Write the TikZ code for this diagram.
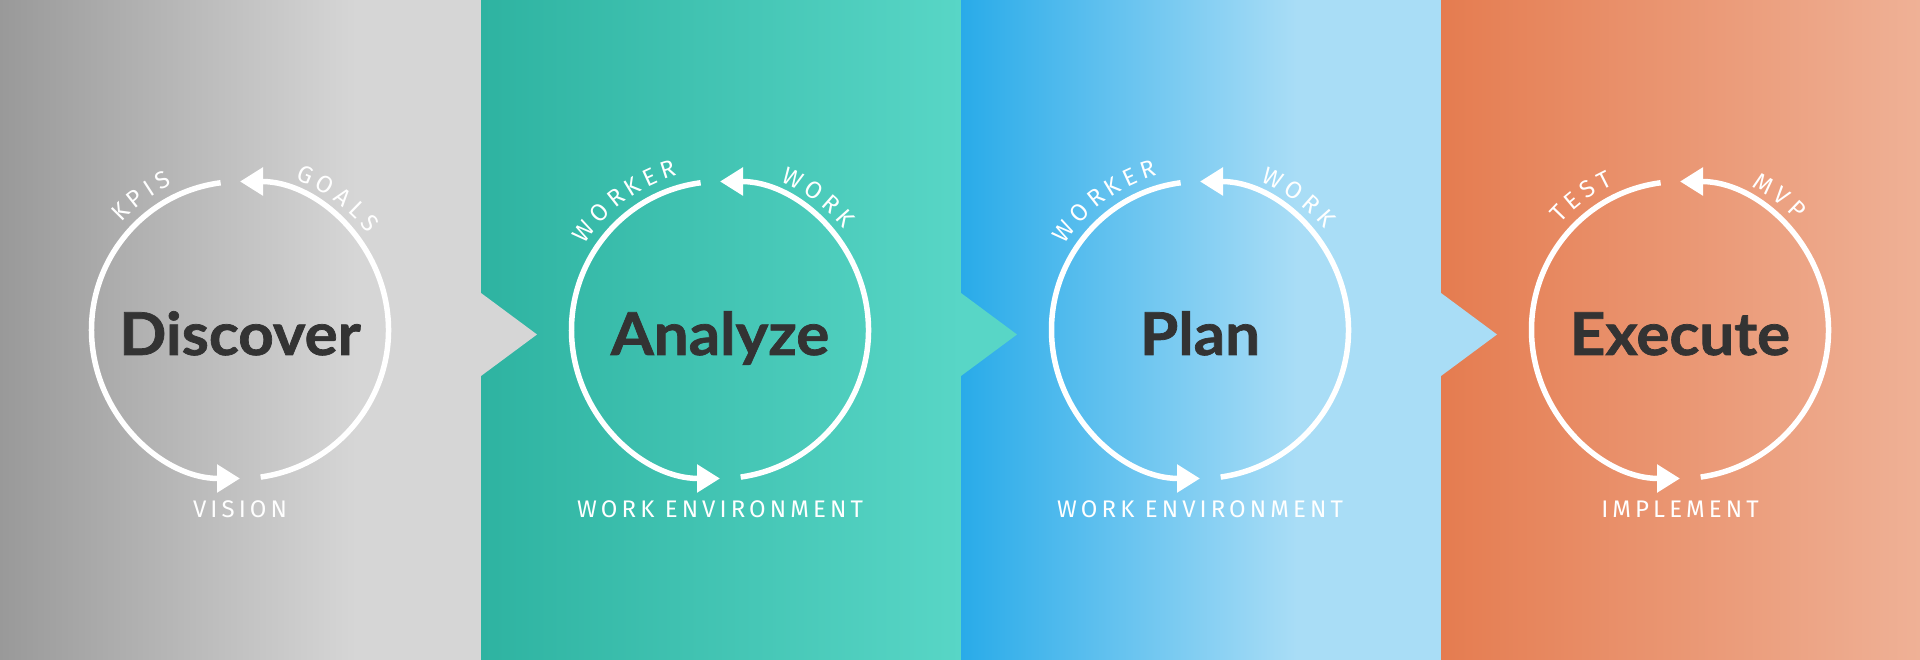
\documentclass[tikz,border=0pt]{standalone}
\usepackage{fontspec}
\newfontfamily\titlefont[FakeStretch=1.05, FakeBold=1.2]{Lato}
\newfontfamily\labelfont[LetterSpace=17]{Fira Sans}
\usetikzlibrary{calc,arrows.meta,decorations.text}
\definecolor{grayL}{HTML}{999999}
\definecolor{grayR}{HTML}{D6D6D6}
\definecolor{tealL}{HTML}{2EB3A1}
\definecolor{tealR}{HTML}{58D6C6}
\definecolor{blueL}{HTML}{29ABE9}
\definecolor{blueR}{HTML}{A9DDF6}
\definecolor{orangeL}{HTML}{E57C50}
\definecolor{orangeR}{HTML}{EFB196}
\definecolor{ink}{HTML}{333333}
\pgfdeclarehorizontalshading{grayfade}{100bp}{color(0bp)=(grayL); color(25bp)=(grayL); color(62bp)=(grayR); color(100bp)=(grayR)}
\pgfdeclarehorizontalshading{tealfade}{100bp}{color(0bp)=(tealL); color(25bp)=(tealL); color(75bp)=(tealR); color(100bp)=(tealR)}
\pgfdeclarehorizontalshading{bluefade}{100bp}{color(0bp)=(blueL); color(25bp)=(blueL); color(60bp)=(blueR); color(100bp)=(blueR)}
\pgfdeclarehorizontalshading{orangefade}{100bp}{color(0bp)=(orangeL); color(25bp)=(orangeL); color(75bp)=(orangeR); color(100bp)=(orangeR)}
\tikzset{
	cyclearrow/.style={white, line width=5.5, -{Triangle[length=23pt,width=27pt]}},
	phasetitle/.style={anchor=base, inner sep=0, text=ink, font=\titlefont\bfseries\fontsize{59}{59}\selectfont},
	phasecaption/.style={anchor=base, inner sep=0, text=white, font=\labelfont\fontsize{24}{24}\selectfont}
}
\def\cyclearcs(#1){\draw[cyclearrow] ($(#1)+(97.5:148.5)$) arc (97.5:270:148.5);
	\draw[cyclearrow] ($(#1)+(278:148.5)$) arc (278:450:148.5);}
\def\arclabel(#1)(#2:#3)#4{\path[decorate, decoration={text effects along path, text={#4}, text align=center,
	text effects/.cd, characters={text along path, text=white, inner sep=0, font=\labelfont\fontsize{24}{24}\selectfont},
	character widths={inner xsep=2.6pt, font=\labelfont\fontsize{24}{24}\selectfont}}] ($(#1)+(#2:160)$) arc (#2:#3:160);}

\begin{document}
\begin{tikzpicture}[x=1pt, y=1pt]
			%%%%% PANELS %%%%%
			\useasboundingbox (0, 0) rectangle (1920, 660);
			
			\shade[shading=grayfade] (0, 0) rectangle (481, 660);
			\shade[shading=tealfade] (481, 0) rectangle (961, 660);
			\shade[shading=bluefade] (961, 0) rectangle (1441, 660);
			\shade[shading=orangefade] (1441, 0) rectangle (1920, 660);
			
			\fill[grayR] (481, 284) -- (537, 325.5) -- (481, 367) -- cycle;
			\fill[tealR] (961, 284) -- (1017, 325.5) -- (961, 367) -- cycle;
			\fill[blueR] (1441, 284) -- (1497, 325.5) -- (1441, 367) -- cycle;
			
			\coordinate (c1) at (240, 330);
			\coordinate (c2) at (720, 330);
			\coordinate (c3) at (1200, 330);
			\coordinate (c4) at (1680, 330);
			
			%%%%% CYCLES %%%%%
			\cyclearcs(c1)
			\node[phasetitle] (discover) at (240, 305) {Discover};
			\node[phasecaption] (vision) at (240, 142) {VISION};
			\arclabel(c1)(158.5:94.5){KPIS}
			\arclabel(c1)(85.5:21.5){GOALS}
			
			\cyclearcs(c2)
			\node[phasetitle] (analyze) at (720, 305) {Analyze};
			\node[phasecaption] (environA) at (720, 142) {WORK ENVIRONMENT};
			\arclabel(c2)(158.5:94.5){WORKER}
			\arclabel(c2)(85.5:21.5){WORK}
			
			\cyclearcs(c3)
			\node[phasetitle] (plan) at (1200, 305) {Plan};
			\node[phasecaption] (environB) at (1200, 142) {WORK ENVIRONMENT};
			\arclabel(c3)(158.5:94.5){WORKER}
			\arclabel(c3)(85.5:21.5){WORK}
			
			\cyclearcs(c4)
			\node[phasetitle] (execute) at (1680, 305) {Execute};
			\node[phasecaption] (implement) at (1680, 142) {IMPLEMENT};
			\arclabel(c4)(158.5:94.5){TEST}
			\arclabel(c4)(85.5:21.5){MVP}
			
\end{tikzpicture}
\end{document}
